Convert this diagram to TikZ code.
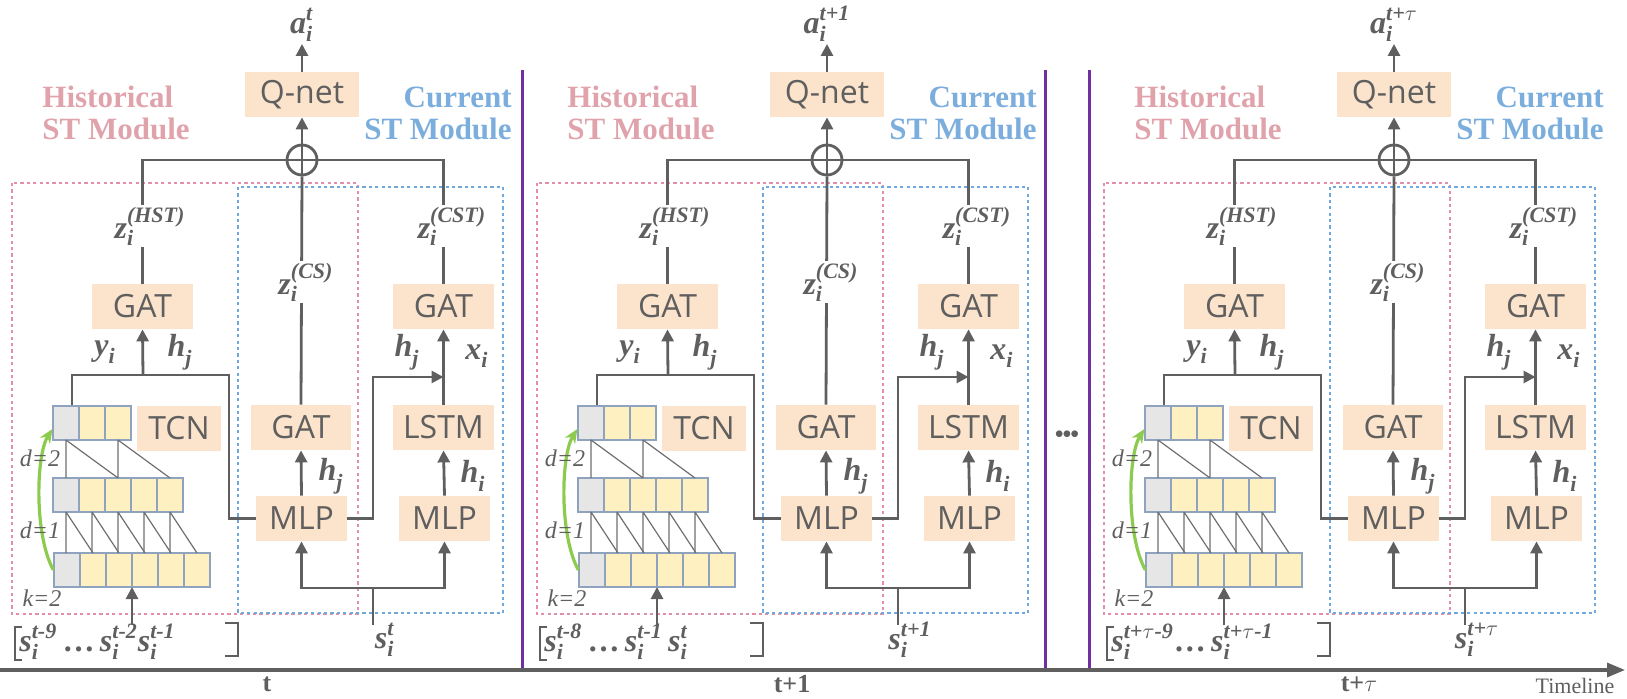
\documentclass[tikz,border=0pt]{standalone}
\usepackage{fontspec}
\setmainfont{Liberation Serif}
\newfontfamily\boxfont{Open Sans}
\usetikzlibrary{arrows.meta}
\definecolor{boxfill}{HTML}{FCE4CC}
\definecolor{pinkd}{HTML}{E38FAA}
\definecolor{blued}{HTML}{6FA8DC}
\definecolor{pinkt}{HTML}{E0A3AC}
\definecolor{bluet}{HTML}{7BAEDD}
\definecolor{lgray}{HTML}{5F5F5F}
\definecolor{cellY}{HTML}{FFF0C2}
\definecolor{cellG}{HTML}{E6E6E6}
\definecolor{cellB}{HTML}{8FA3BF}
\definecolor{grn}{HTML}{8CCB4E}
\definecolor{purp}{HTML}{7030A0}
\newcommand\sx[1]{\textbf{\textit{#1}}}
\newcommand\sm[1]{\mbox{\fontsize{11}{11}\selectfont\textbf{\textit{#1}}}}
% letter, subscript, superscript
\newcommand\ml[3]{\textbf{\textit{#1}}$_{\sm{#2}}^{\sm{#3}}$}
\tikzset{
 box/.style={fill=boxfill,inner sep=0,minimum height=22.5pt,font=\boxfont\fontsize{16}{18}\selectfont,text=lgray},
 ln/.style={draw=lgray,line width=1.4pt},
 ar/.style={ln,-{Triangle[length=6pt,width=6pt]}},
 pinkbox/.style={draw=pinkd,line width=1.2pt,dash pattern=on 1.6pt off 1.6pt},
 bluebox/.style={draw=blued,line width=1.2pt,dash pattern=on 1.6pt off 1.6pt},
 lab/.style={text=lgray,font=\fontsize{16}{17}\selectfont,inner sep=1pt},
 wlab/.style={lab,fill=white},
 dlab/.style={text=lgray,font=\itshape\fontsize{12}{14}\selectfont,inner sep=0},
 cell/.style={draw=cellB,line width=0.6pt,minimum width=13pt,minimum height=17pt,inner sep=0},
 tl/.style={draw=lgray!90,line width=0.6pt},
 title/.style={font=\bfseries\fontsize{15.5}{16}\selectfont,align=left,inner sep=0}
}
\newcommand\panel[5]{%
\begin{scope}[xshift=#2*0.5pt]
\draw[pinkbox] (12,183) rectangle (358,614);
\draw[bluebox] (238,187) rectangle (503,613);
\node[title,text=pinkt,anchor=west] (#1ht) at (42,113) {Historical\\ST Module};
\node[title,text=bluet,align=right,anchor=east] (#1ct) at (512,113) {Current\\ST Module};
\node[box,minimum width=57pt] (#1q) at (302,94.5) {Q-net};
\node[lab,anchor=south] (#1a) at (302,44) {\ml{a}{i}{#3}};
\draw[ar] (#1q.north) -- (302,44);
\node[circle,draw=lgray,line width=1.4pt,minimum size=15pt,inner sep=0] (#1op) at (302,160) {};
\draw[ln] (#1op.north) -- (#1op.south) (#1op.west) -- (#1op.east);
\draw[ar] (#1op.north) -- (#1q.south);
\node[box,minimum width=50.5pt] (#1gl) at (142.5,306.5) {GAT};
\node[box,minimum width=50.5pt] (#1gr) at (443.5,306.5) {GAT};
\node[box,minimum width=50pt] (#1gm) at (301,427.5) {GAT};
\node[box,minimum width=50.5pt] (#1ls) at (443.5,427.5) {LSTM};
\node[box,minimum width=45.5pt] (#1m1) at (301.5,518.5) {MLP};
\node[box,minimum width=45.5pt] (#1m2) at (444.5,518.5) {MLP};
\node[box,minimum width=42pt] (#1tcn) at (179,428.5) {TCN};
\draw[ln] (#1op.west) -| (#1gl.north);
\draw[ln] (#1op.east) -| (#1gr.north);
\draw[ln] (#1op.south) -- (#1gm.north);
\node[wlab] at (150,226) {\ml{z}{i}{(HST)}};
\node[wlab] at (452,226) {\ml{z}{i}{(CST)}};
\node[wlab] at (306,282) {\ml{z}{i}{(CS)}};
% TCN cells
\node[cell,fill=cellG] (#1t0) at (66,423) {};
\foreach \c in {92,118} \node[cell,fill=cellY] at (\c,423) {};
\node[cell,fill=cellG] at (66,495) {};
\foreach \c in {92,118,144,170} \node[cell,fill=cellY] at (\c,495) {};
\node[cell,fill=cellG] (#1b0) at (67,570) {};
\foreach \c in {93,119,145,171,197} \node[cell,fill=cellY] at (\c,570) {};
\draw[tl] (66,440) -- (66,478) (66,440) -- (118,478) (118,440) -- (118,478) (118,440) -- (170,478);
\foreach \a/\b in {66/93,92/119,118/145,144/171,170/197} \draw[tl] (\a,512) -- (\a,553) (\a,512) -- (\b,553);
\draw[grn,line width=1.6pt,-{Stealth[length=7pt,width=6pt]}] (#1b0.west) .. controls (34,535) and (36,455) .. ([yshift=-3pt]#1t0.west);
\node[dlab] at (40,458) {d=2};
\node[dlab] at (40,530) {d=1};
\node[dlab] at (42,598) {k=2};
\draw[ln] ([xshift=3pt]#1t0.north) |- (229,375) |- (#1m1.west);
\draw[ar] (143,375) -- (#1gl.south);
\node[lab] at (105,352) {\ml{y}{i}{}};
\node[lab] at (180,352) {\ml{h}{j}{}};
\coordinate (#1jn) at (443.5,377);
\draw[ar] (#1m1.east) -- (373,518.5) |- (#1jn);
\draw[ar] (#1ls.north) -- (#1gr.south);
\node[lab] at (407,352) {\ml{h}{j}{}};
\node[lab] at (477,356) {\ml{x}{i}{}};
\draw[ar] (#1m1.north) -- (#1gm.south);
\draw[ar] (#1m2.north) -- (#1ls.south);
\node[lab] at (331,476) {\ml{h}{j}{}};
\node[lab] at (473,476) {\ml{h}{i}{}};
\coordinate (#1sin) at (373,625);
\draw[ln] (#1sin) -- (373,588);
\draw[ar] (373,588) -| (#1m1.south);
\draw[ar] (373,588) -| (#1m2.south);
\node[lab] at (385,640) {\ml{s}{i}{#5}};
\coordinate (#1hin) at (132,625);
\draw[ar] (#1hin) -- (132,587);
\draw[ln] (22,627) -- (15,627) -- (15,660) -- (22,660);
\draw[ln] (225,623) -- (238,623) -- (238,656) -- (225,656);
\node[lab,anchor=west] at (17,642) {#4};
\end{scope}}
\begin{document}
\begin{tikzpicture}[x=0.5pt,y=-0.5pt]
\useasboundingbox (0,0) rectangle (1627,699);
\panel{p}{0}{t}{\ml{s}{i}{t-9}\,\textbf{\dots}\,\ml{s}{i}{t-2}\ml{s}{i}{t-1}}{t}
\panel{q}{525}{t+1}{\ml{s}{i}{t-8}\,\textbf{\dots}\,\ml{s}{i}{t-1}\,\ml{s}{i}{t}}{t+1}
\panel{r}{1092}{t+$\tau$}{\ml{s}{i}{t+$\tau$-9}\textbf{\dots}\,\ml{s}{i}{t+$\tau$-1}}{t+$\tau$}
\draw[purp,line width=1.5pt] (522,70) -- (522,670);
\draw[purp,line width=1.5pt] (1045,70) -- (1045,670);
\draw[purp,line width=1.5pt] (1089,70) -- (1089,670);
\node[text=lgray,font=\fontsize{14}{14}\selectfont,inner sep=0] (dots) at (1067,437) {\textbullet\kern-1pt\textbullet\kern-1pt\textbullet};
\coordinate (tl0) at (0,670);
\coordinate (tl1) at (1625,670);
\draw[lgray,line width=1.6pt,-{Triangle[length=9pt,width=7pt]}] (tl0) -- (tl1);
\node[lab,font=\bfseries\fontsize{13}{14}\selectfont] at (267,684) {t};
\node[lab,font=\bfseries\fontsize{13}{14}\selectfont] at (792,684) {t+1};
\node[lab,font=\bfseries\fontsize{13}{14}\selectfont] at (1359,684) {t+$\tau$};
\node[lab,font=\fontsize{11}{12}\selectfont] at (1575,686) {Timeline};
\end{tikzpicture}
\end{document}
